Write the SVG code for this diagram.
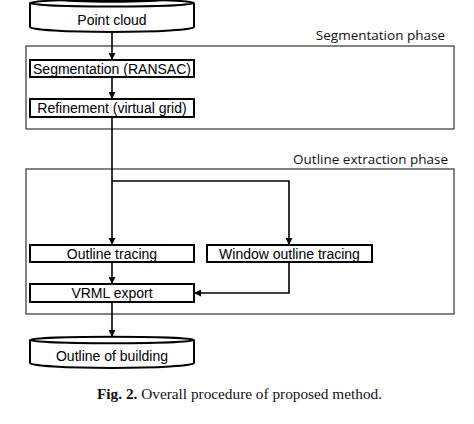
<svg xmlns="http://www.w3.org/2000/svg" width="474" height="424" viewBox="0 0 474 424">
<defs>
<style>
.node{fill:#fff;stroke:#000;stroke-width:2}
.phase{fill:#fff;stroke:#333;stroke-width:1.2}
.t{font-family:"Liberation Sans",Arial,sans-serif;font-size:14px;fill:#000;text-anchor:middle}
.pl{font-family:"Open Sans","Noto Sans",sans-serif;font-size:13.5px;fill:#111;text-anchor:end}
.cap{font-family:"Liberation Serif","Times New Roman",serif;font-size:15.3px;fill:#111}
.c{fill:none;stroke:#000;stroke-width:1.6}
</style>
<marker id="ah" viewBox="0 0 10 10" refX="10" refY="5" markerWidth="7" markerHeight="7" markerUnits="userSpaceOnUse" orient="auto">
<path d="M0,0 L10,5 L0,10 z" fill="#000"/>
</marker>
</defs>
<rect width="474" height="424" fill="#fff"/>
<g id="phase-seg">
<rect class="phase" x="26" y="46" width="428" height="83"/>
<text class="pl" x="445" y="40">Segmentation phase</text>
</g>
<g id="phase-outline">
<rect class="phase" x="26" y="169" width="428" height="145"/>
<text class="pl" x="448" y="164">Outline extraction phase</text>
</g>
<g id="connectors">
<line class="c" x1="112" y1="32" x2="112" y2="60" marker-end="url(#ah)"/>
<line class="c" x1="112" y1="77" x2="112" y2="99" marker-end="url(#ah)"/>
<line class="c" x1="112" y1="117" x2="112" y2="245" marker-end="url(#ah)"/>
<polyline class="c" points="112,181 289,181 289,245" marker-end="url(#ah)"/>
<line class="c" x1="112" y1="262" x2="112" y2="284" marker-end="url(#ah)"/>
<polyline class="c" points="289,262 289,293 194,293" marker-end="url(#ah)"/>
<line class="c" x1="112" y1="302" x2="112" y2="337" marker-end="url(#ah)"/>
</g>
<g id="point-cloud">
<path class="node" d="M30,3 L30,27 A82,5 0 0 0 194,27 L194,3"/>
<ellipse class="node" cx="112" cy="3" rx="82" ry="3.5"/>
<ellipse cx="112" cy="0.5" rx="52" ry="2.2" fill="#000"/>
<text class="t" x="112" y="25">Point cloud</text>
</g>
<g id="segmentation">
<rect class="node" x="30" y="60" width="164" height="17"/>
<text class="t" x="112" y="73.5">Segmentation (RANSAC)</text>
</g>
<g id="refinement">
<rect class="node" x="30" y="99" width="164" height="18"/>
<text class="t" x="112" y="113">Refinement (virtual grid)</text>
</g>
<g id="outline-tracing">
<rect class="node" x="30" y="245" width="164" height="17"/>
<text class="t" x="112" y="259">Outline tracing</text>
</g>
<g id="window-outline-tracing">
<rect class="node" x="207" y="245" width="165" height="17"/>
<text class="t" x="289.5" y="259">Window outline tracing</text>
</g>
<g id="vrml-export">
<rect class="node" x="30" y="284" width="164" height="18"/>
<text class="t" x="112" y="298">VRML export</text>
</g>
<g id="outline-of-building">
<path class="node" d="M30,340 L30,363 A82,5 0 0 0 194,363 L194,340"/>
<ellipse class="node" cx="112" cy="340" rx="82" ry="3.2"/>
<text class="t" x="112" y="361">Outline of building</text>
</g>
<text class="cap" x="97" y="399"><tspan font-weight="bold">Fig. 2.</tspan> Overall procedure of proposed method.</text>
</svg>
